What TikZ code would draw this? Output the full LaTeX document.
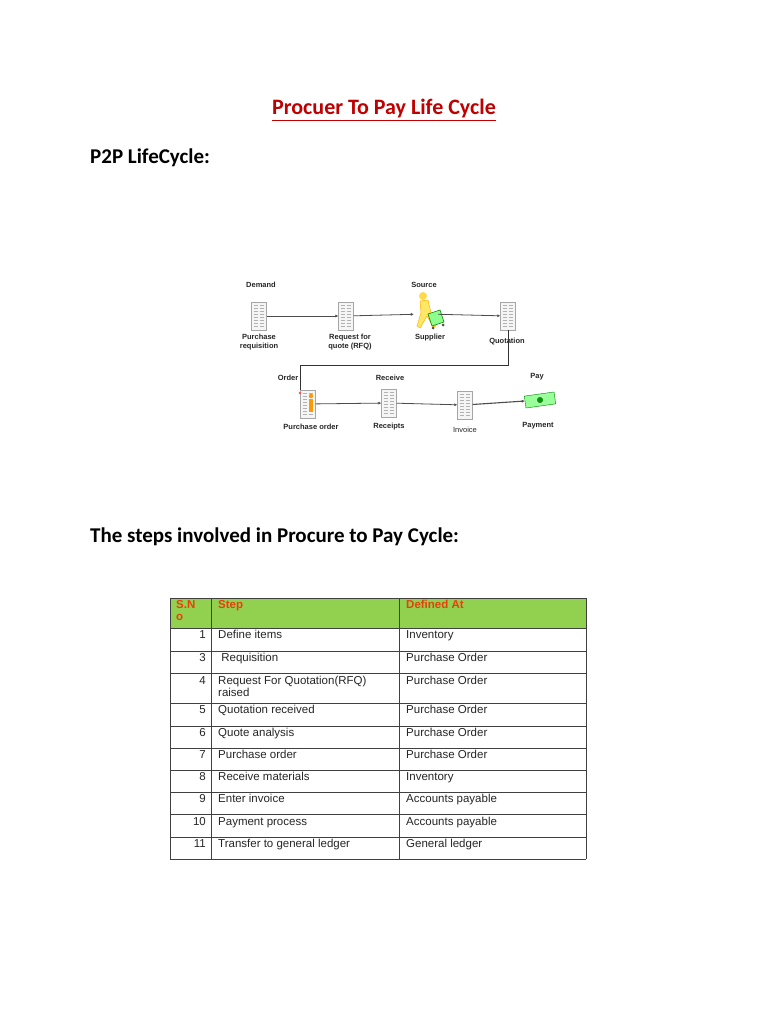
\documentclass[tikz,border=0pt]{standalone}
\usepackage{fontspec}
\setmainfont{Carlito}
\newfontfamily\arial{Liberation Sans}
\usetikzlibrary{arrows.meta}
\definecolor{titlered}{HTML}{C00000}
\definecolor{hdrgreen}{HTML}{92D050}
\definecolor{hdrtext}{HTML}{E8400C}
\begin{document}
\begin{tikzpicture}[x=1pt,y=-1pt,
  doc/.style={draw=gray!70,fill=gray!8,minimum width=15pt,minimum height=28pt,inner sep=0pt,
    path picture={\foreach \yy in {-10,-7,...,11}{\draw[gray!60,line width=0.6pt]
      ([xshift=2pt,yshift=\yy pt]path picture bounding box.west) -- ++(4.5pt,0)
      ([xshift=8pt,yshift=\yy pt]path picture bounding box.west) -- ++(4.5pt,0);}}},
  lab/.style={font=\arial\bfseries\fontsize{7.5}{8.5}\selectfont,align=center,text=black!85},
  flow/.style={draw=black!70,line width=0.8pt,-{Latex[length=3pt,width=3pt]}},
  cell/.style={font=\arial\fontsize{11.5}{12}\selectfont,anchor=north west,inner sep=0pt,text=black!85},
  hcell/.style={font=\arial\bfseries\fontsize{11.5}{12}\selectfont,anchor=north west,inner sep=0pt,text=hdrtext,align=left},
  num/.style={font=\arial\fontsize{11.5}{12}\selectfont,anchor=north east,inner sep=0pt,text=black!85},
  tline/.style={draw=black!75,line width=0.6pt}]
\useasboundingbox (0,0) rectangle (768,1024);
\fill[white] (0,0) rectangle (768,1024);
\node[font=\bfseries\fontsize{22}{26}\selectfont,text=titlered] (title) at (384,110) {\underline{Procuer To Pay Life Cycle}};
\node[font=\bfseries\fontsize{21}{25}\selectfont,anchor=west,inner sep=0pt] (h1) at (90,158) {P2P LifeCycle:};
\node[font=\bfseries\fontsize{21}{25}\selectfont,anchor=west,inner sep=0pt] (h2) at (90,537) {The steps involved in Procure to Pay Cycle:};
% diagram
\node[doc] (d1) at (259,316) {};
\node[doc] (d2) at (346,316) {};
\node[minimum width=24pt,minimum height=30pt,inner sep=0pt] (sup) at (426,314) {};
\fill[orange!40!yellow!70] (423,296) circle (4);
\draw[orange!60!yellow,fill=orange!30!yellow!60,line width=0.5pt] (420,301) -- (428,300) -- (431,313) -- (436,326) -- (433,327) -- (427,316) -- (420,328) -- (417,326) -- (421,313) -- cycle;
\draw[green!50!black,fill=green!45,line width=0.5pt] (428,314) -- (440,310) -- (444,322) -- (432,326) -- cycle;
\fill[black!70] (433,328) circle (1.5) (443,325) circle (1.5);
\node[doc] (d3) at (508,316) {};
\draw[flow] (d1) -- (d2);
\draw[flow] (d2) -- (sup);
\draw[flow] (sup) -- (d3);
\node[lab] at (261,285) {Demand};
\node[lab] at (424,285) {Source};
\node[lab] at (259,342) {Purchase\\requisition};
\node[lab] at (350,342) {Request for\\quote (RFQ)};
\node[lab] at (430,338) {Supplier};
\node[lab] at (507,342) {Quotation};
\node[lab] at (288,378) {Order};
\node[lab] at (390,378) {Receive};
\node[lab] at (537,377) {Pay};
\node[doc] (d4) at (308,404) {};
\fill[orange!80!yellow] (311,396) circle (2.2);
\fill[orange!80!yellow] (309,399) rectangle (313,412);
\fill[red!70] (300,393) circle (1.3);
\node[doc] (d5) at (389,403) {};
\node[doc] (d6) at (465,405) {};
\node[draw=green!50!black,fill=green!40,minimum width=30pt,minimum height=12pt,inner sep=0pt,rotate=8] (money) at (540,400) {};
\draw[white,fill=green!60!black] (money.center) circle (3.5);
\coordinate (bend) at (508,365);
\draw[black!80,line width=1pt] (d3.south) -- (bend) -| (d4.north west);
\draw[flow] (d4) -- (d5);
\draw[flow] (d5) -- (d6);
\draw[flow,line width=1.1pt] (d6) -- (money);
\node[lab] at (311,427) {Purchase order};
\node[lab] at (389,427) {Receipts};
\node[lab,font=\arial\fontsize{7.5}{8.5}\selectfont] at (465,430) {Invoice};
\node[lab] at (538,426) {Payment};
% table
\fill[hdrgreen] (170,598) rectangle (586,628);
\foreach \yy in {598,628,651,673,703,726,748,770,792,814,837,859}{\draw[tline] (170,\yy) -- (586,\yy);}
\foreach \xx in {170,211,399,586}{\draw[tline] (\xx,598) -- (\xx,859);}
\node[hcell] (hs) at (176,600) {S.N\\o};
\node[hcell] (hst) at (218,600) {Step};
\node[hcell] (hd) at (406,600) {Defined At};
\foreach \n/\s/\d/\yy in {1/Define items/Inventory/630,
 3/{\ Requisition}/Purchase Order/653,
 4/{Request For Quotation(RFQ)\\raised}/Purchase Order/676,
 5/Quotation received/Purchase Order/705,
 6/Quote analysis/Purchase Order/728,
 7/Purchase order/Purchase Order/750,
 8/Receive materials/Inventory/772,
 9/Enter invoice/Accounts payable/794,
 10/Payment process/Accounts payable/817,
 11/Transfer to general ledger/General ledger/839}{
  \node[num] at (206,\yy) {\n};
  \node[cell,align=left] at (218,\yy) {\s};
  \node[cell] at (406,\yy) {\d};
}
\end{tikzpicture}
\end{document}
